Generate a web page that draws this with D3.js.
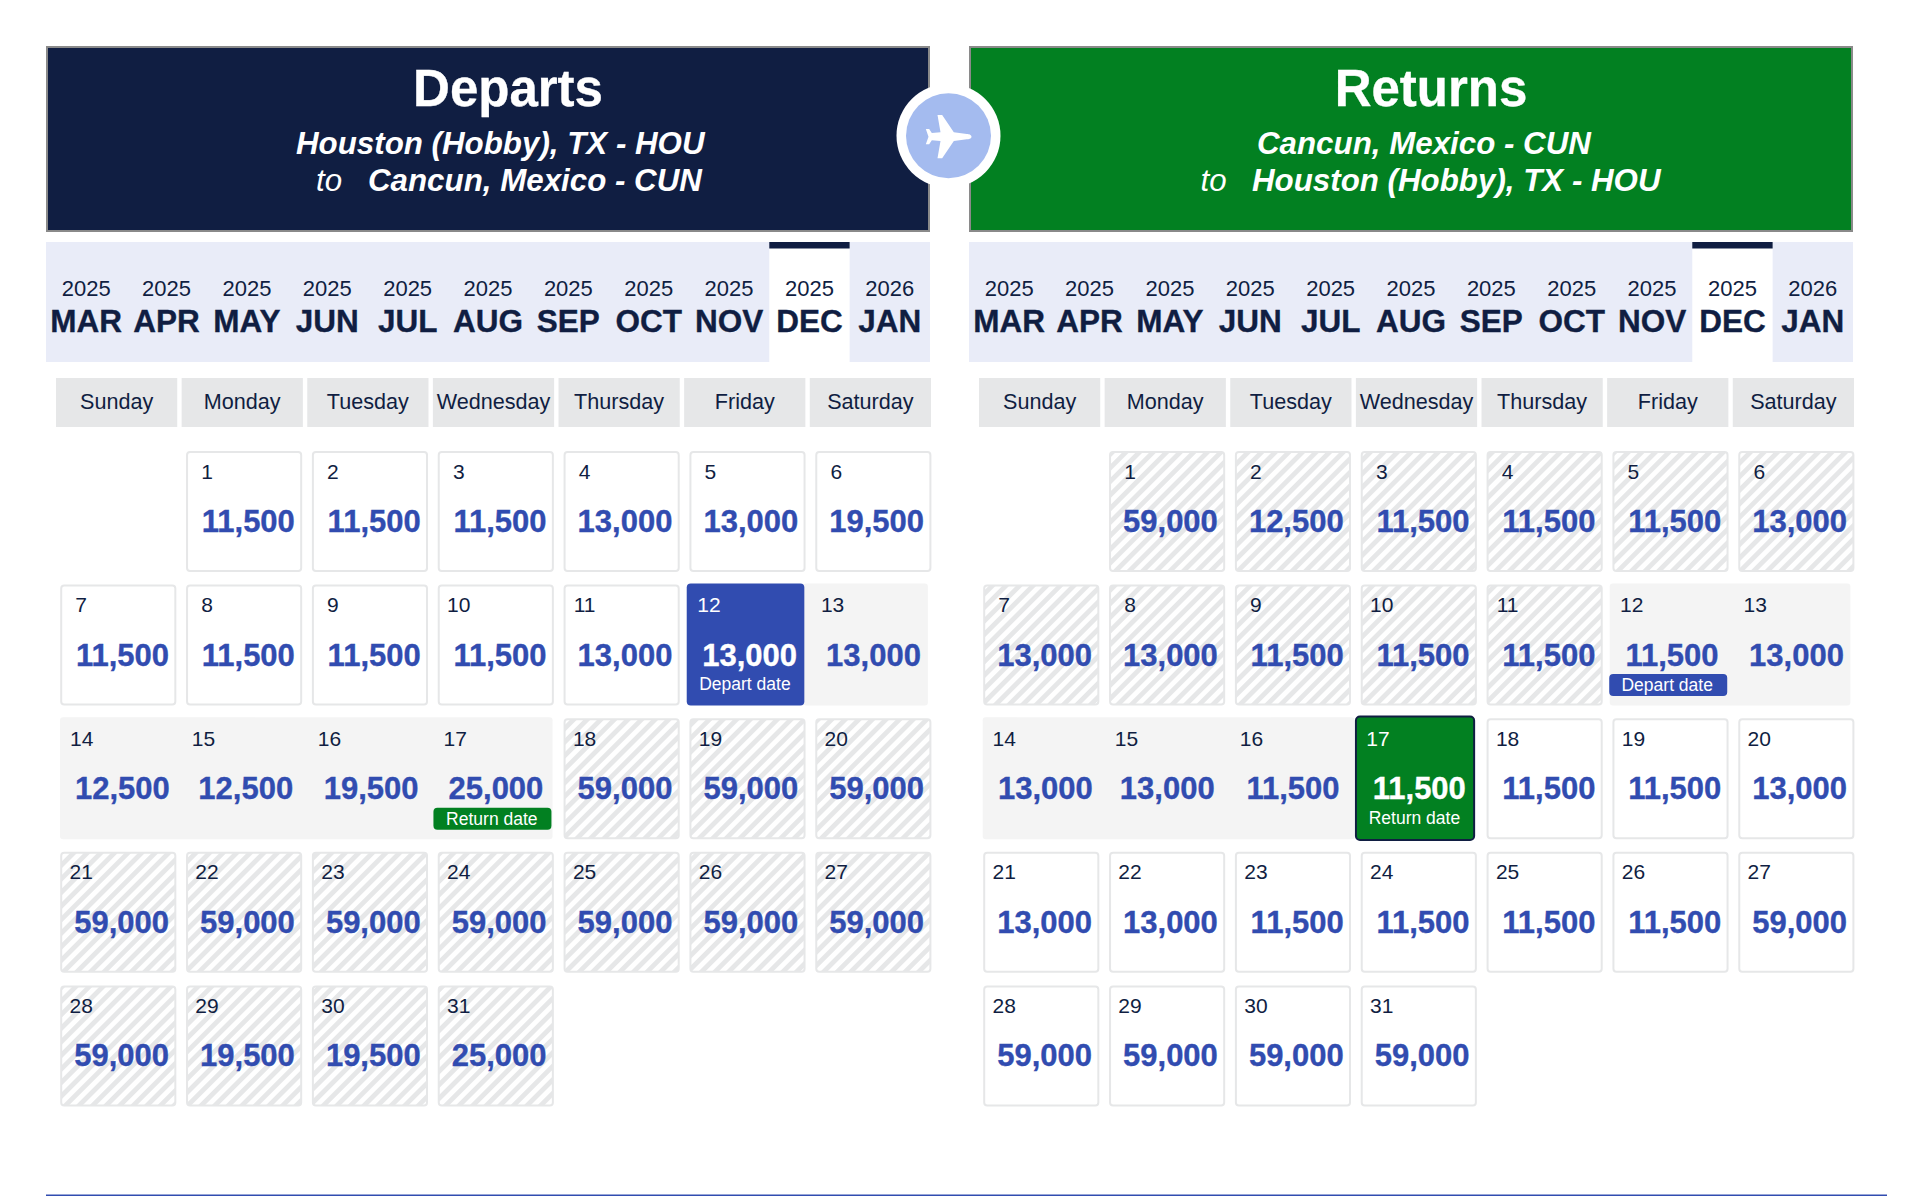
<!DOCTYPE html>
<html>
<head>
<meta charset="utf-8">
<script src="https://cdn.jsdelivr.net/npm/d3@7"></script>
<style>
  body { margin: 0; background: #fff; }
  svg { display: block; font-family: "Liberation Sans", Arial, sans-serif; }
  .heavy { stroke-width: 0.35; paint-order: stroke; }
</style>
</head>
<body>
<svg id="chart" width="1920" height="1196"></svg>
<script>
const months = ["MAR", "APR", "MAY", "JUN", "JUL", "AUG", "SEP", "OCT", "NOV", "DEC", "JAN"];
const years = [2025, 2025, 2025, 2025, 2025, 2025, 2025, 2025, 2025, 2025, 2026];
const weekdays = ["Sunday", "Monday", "Tuesday", "Wednesday", "Thursday", "Friday", "Saturday"];

// points price for each day of December
const departPrices = [11500, 11500, 11500, 13000, 13000, 19500, 11500, 11500, 11500, 11500, 13000,
  13000, 13000, 12500, 12500, 19500, 25000, 59000, 59000, 59000, 59000, 59000, 59000, 59000,
  59000, 59000, 59000, 59000, 19500, 19500, 25000];
const returnPrices = [59000, 12500, 11500, 11500, 11500, 13000, 13000, 13000, 11500, 11500, 11500,
  11500, 13000, 13000, 13000, 11500, 11500, 11500, 11500, 13000, 13000, 13000, 11500, 11500,
  11500, 11500, 59000, 59000, 59000, 59000, 59000];

const departDay = 12;
const returnDay = 17;
const activeMonth = "DEC";

const navy = "#101e42", green = "#028021", blue = "#314cb0", grey = "#e6e7e8", pale = "#f4f4f4";

const svg = d3.select("#chart");
const fmt = d3.format(",");

const defs = svg.append("defs");
const hatch = defs.append("pattern")
  .attr("id", "hatch")
  .attr("patternUnits", "userSpaceOnUse")
  .attr("width", 9.6)
  .attr("height", 9.6)
  .attr("patternTransform", "rotate(45)");
hatch.append("rect").attr("width", 9.6).attr("height", 9.6).attr("fill", "#fff");
hatch.append("rect").attr("width", 4.8).attr("height", 9.6).attr("fill", grey);

const x = d3.scaleBand().domain(d3.range(7)).range([60.2, 931.4]).paddingInner(0.0772);
const y = d3.scaleBand().domain(d3.range(5)).range([451, 1106.4]).paddingInner(0.0943);
const xHead = d3.scaleBand().domain(weekdays).range([56, 931]).paddingInner(0.035);
const xMonth = d3.scaleBand().domain(months).range([46, 930]);

// number centre / price right end inside the highlighted cells
const rangeLayout = {
  depart: { 12: [19.5, 8.5], 13: [17.3, 10.5], 14: [21.5, 6.5], 15: [17.5, 9], 16: [17.5, 9.5], 17: [17.5, 10.5] },
  return: { 12: [19.3, 10], 13: [16.9, 10.5], 14: [21.1, 6.5], 15: [17.5, 10.5], 16: [16.5, 11.5], 17: [17.2, 11] }
};

function drawPanel(g, opts) {
  // header
  g.append("rect")
    .attr("x", 47).attr("y", 47).attr("width", 882).attr("height", 184)
    .attr("fill", opts.color).attr("stroke", "#8a8a8a").attr("stroke-width", 2);
  g.append("text")
    .attr("class", "heavy")
    .attr("x", 508).attr("y", 106)
    .attr("text-anchor", "middle")
    .attr("font-size", 51).attr("font-weight", "bold").attr("fill", "#fff").attr("stroke", "#fff")
    .text(opts.title);
  g.append("text")
    .attr("x", opts.fromX).attr("y", 154)
    .attr("font-size", 31.3).attr("font-weight", "bold").attr("font-style", "italic").attr("fill", "#fff")
    .text(opts.from);
  g.append("text")
    .attr("x", opts.prepX).attr("y", 191)
    .attr("font-size", 31.3).attr("font-style", "italic").attr("fill", "#fff")
    .text("to");
  g.append("text")
    .attr("x", opts.toX).attr("y", 191)
    .attr("font-size", 31.3).attr("font-weight", "bold").attr("font-style", "italic").attr("fill", "#fff")
    .text(opts.to);

  // month strip
  g.append("rect")
    .attr("x", 46).attr("y", 242).attr("width", 884).attr("height", 120)
    .attr("fill", "#e9ecf8");
  g.append("rect")
    .attr("x", xMonth(activeMonth)).attr("y", 242)
    .attr("width", xMonth.bandwidth()).attr("height", 120)
    .attr("fill", "#fff");
  g.append("rect")
    .attr("x", xMonth(activeMonth)).attr("y", 242)
    .attr("width", xMonth.bandwidth()).attr("height", 6.5)
    .attr("fill", navy);

  const tabs = g.selectAll(".month").data(months).enter().append("g").attr("class", "month");
  tabs.append("text")
    .attr("x", d => xMonth(d) + xMonth.bandwidth() / 2).attr("y", 296)
    .attr("text-anchor", "middle").attr("font-size", 22).attr("fill", navy)
    .text((d, i) => years[i]);
  tabs.append("text")
    .attr("class", "heavy")
    .attr("x", d => xMonth(d) + xMonth.bandwidth() / 2).attr("y", 331.5)
    .attr("text-anchor", "middle").attr("font-size", 31.5).attr("font-weight", "bold")
    .attr("fill", navy).attr("stroke", navy)
    .text(d => d);

  // weekday heads
  g.selectAll(".head").data(weekdays).enter().append("rect")
    .attr("class", "head")
    .attr("x", d => xHead(d)).attr("y", 378)
    .attr("width", xHead.bandwidth()).attr("height", 49)
    .attr("fill", grey);
  g.selectAll(".headLabel").data(weekdays).enter().append("text")
    .attr("class", "headLabel")
    .attr("x", d => xHead(d) + xHead.bandwidth() / 2).attr("y", 409)
    .attr("text-anchor", "middle").attr("font-size", 21.6).attr("fill", navy)
    .text(d => d);

  const days = opts.prices.map((price, i) => {
    const day = i + 1;
    return { day, price, col: day % 7, row: Math.floor(day / 7) };
  });

  // stretch of grey between the two chosen dates, one per week
  g.selectAll(".range").data(opts.ranges).enter().append("rect")
    .attr("class", "range")
    .attr("x", d => x(d.from) + d.inL)
    .attr("y", d => y(d.row) - 1)
    .attr("width", d => x(d.to) + x.bandwidth() + d.inR - x(d.from) - d.inL)
    .attr("height", 122)
    .attr("rx", 3)
    .attr("fill", pale);

  const cells = g.selectAll(".day").data(days).enter().append("g").attr("class", "day");

  cells.filter(d => d.day !== opts.selected && !opts.inRange(d.day))
    .append("rect")
    .attr("x", d => x(d.col) + 1).attr("y", d => y(d.row) + 1)
    .attr("width", x.bandwidth() - 2).attr("height", y.bandwidth() - 2)
    .attr("rx", 3)
    .attr("fill", d => opts.blocked(d.day) ? "url(#hatch)" : "#fff")
    .attr("stroke", grey).attr("stroke-width", 2);

  cells.filter(d => d.day === opts.selected)
    .append("rect")
    .attr("x", d => x(d.col) + opts.sel.dx).attr("y", d => y(d.row) + opts.sel.dy)
    .attr("width", opts.sel.w).attr("height", opts.sel.h)
    .attr("rx", 4)
    .attr("fill", opts.sel.fill)
    .attr("stroke", opts.sel.stroke).attr("stroke-width", 2);

  const layout = d => opts.layout[d.day] || [21, 7.3];

  cells.append("text")
    .attr("x", d => x(d.col) + layout(d)[0])
    .attr("y", d => y(d.row) + 27.6)
    .attr("text-anchor", "middle").attr("font-size", 21)
    .attr("fill", d => d.day === opts.selected ? "#fff" : navy)
    .text(d => d.day);

  cells.append("text")
    .attr("class", "heavy")
    .attr("x", d => x(d.col) + x.bandwidth() - layout(d)[1])
    .attr("y", d => y(d.row) + 81)
    .attr("text-anchor", "end").attr("font-size", 31).attr("font-weight", "bold")
    .attr("fill", d => d.day === opts.selected ? "#fff" : blue)
    .attr("stroke", d => d.day === opts.selected ? "#fff" : blue)
    .text(d => fmt(d.price));

  // label inside the chosen date
  const chosen = days.find(d => d.day === opts.selected);
  g.append("text")
    .attr("x", x(chosen.col) + opts.sel.labelX).attr("y", y(chosen.row) + 105.5)
    .attr("text-anchor", "middle").attr("font-size", 17.5).attr("fill", "#fff")
    .text(opts.sel.label);

  // pill for the date chosen on the other calendar
  const other = days.find(d => d.day === opts.pill.day);
  g.append("rect")
    .attr("x", x(other.col) + opts.pill.dx).attr("y", y(other.row) + 89.5)
    .attr("width", 118).attr("height", 22)
    .attr("rx", 4)
    .attr("fill", opts.pill.fill);
  g.append("text")
    .attr("x", x(other.col) + opts.pill.dx + 55 + opts.pill.textDx).attr("y", y(other.row) + 106.5)
    .attr("text-anchor", "middle").attr("font-size", 17.5).attr("fill", "#fff")
    .text(opts.pill.label);
}

drawPanel(svg.append("g"), {
  color: navy,
  title: "Departs",
  from: "Houston (Hobby), TX - HOU",
  to: "Cancun, Mexico - CUN",
  fromX: 296, prepX: 316, toX: 368,
  prices: departPrices,
  selected: departDay,
  inRange: d => d > departDay && d <= returnDay,
  blocked: d => d > returnDay,
  layout: rangeLayout.depart,
  ranges: [
    { row: 1, from: 6, to: 6, inL: -12, inR: -3.5 },
    { row: 2, from: 0, to: 3, inL: -0.2, inR: -1.3 }
  ],
  sel: { dx: -2.7, dy: -1, w: 117.6, h: 122, fill: blue, stroke: "none", label: "Depart date", labelX: 55.5 },
  pill: { day: returnDay, dx: -4.3, fill: green, label: "Return date", textDx: 3.4 }
});

drawPanel(svg.append("g").attr("transform", "translate(923,0)"), {
  color: green,
  title: "Returns",
  from: "Cancun, Mexico - CUN",
  to: "Houston (Hobby), TX - HOU",
  fromX: 334, prepX: 277.5, toX: 329,
  prices: returnPrices,
  selected: returnDay,
  inRange: d => d >= departDay && d < returnDay,
  blocked: d => d < departDay,
  layout: rangeLayout.return,
  ranges: [
    { row: 1, from: 5, to: 6, inL: -2.7, inR: -4 },
    { row: 2, from: 0, to: 2, inL: -0.5, inR: 3.5 }
  ],
  sel: { dx: -4.8, dy: -1.6, w: 118.2, h: 123.4, fill: green, stroke: navy, label: "Return date", labelX: 53.7 },
  pill: { day: departDay, dx: -3.2, fill: blue, label: "Depart date", textDx: 3 }
});

// plane badge between the two panels
const badge = svg.append("g").attr("transform", "translate(948.5,135.7)");
badge.append("circle").attr("r", 52).attr("fill", "#fff");
badge.append("circle").attr("r", 42.5).attr("fill", "#a4bbef");
badge.append("path")
  .attr("transform", "translate(0,1) scale(0.3333)")
  .attr("fill", "#fff")
  .attr("d", "M69,0 C69,-6 60,-8 55,-8 L16,-13 L-19,-65 L-33,-65 L-24,-13 L-50,-11 L-58,-23 L-68,-23 L-60,0 L-68,23 L-58,23 L-50,11 L-24,13 L-33,65 L-19,65 L16,13 L55,8 C60,8 69,6 69,0 Z");

svg.append("line")
  .attr("x1", 46).attr("x2", 1887)
  .attr("y1", 1195.2).attr("y2", 1195.2)
  .attr("stroke", blue).attr("stroke-width", 1.5);
</script>
</body>
</html>
